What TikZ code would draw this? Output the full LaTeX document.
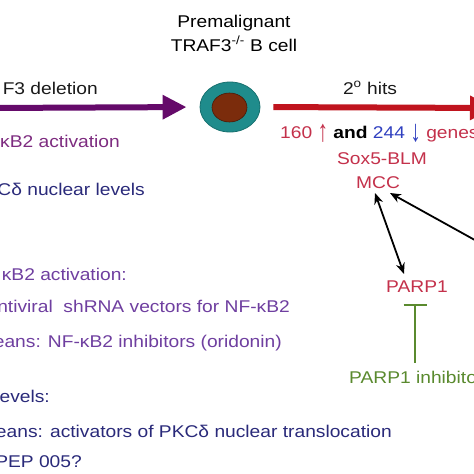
\documentclass[tikz,border=0pt]{standalone}
\usepackage{fontspec}
\setmainfont{Liberation Sans}
\usetikzlibrary{arrows.meta,shapes.geometric}
\definecolor{arrowpurple}{HTML}{650A6A}
\definecolor{arrowred}{HTML}{C0141E}
\definecolor{cellteal}{HTML}{1F8C8C}
\definecolor{celledge}{HTML}{17706F}
\definecolor{nucbrown}{HTML}{7B2C0C}
\definecolor{nucedge}{HTML}{4A1A08}
\definecolor{crimson}{HTML}{C4314B}
\definecolor{genblue}{HTML}{3040C0}
\definecolor{inhgreen}{HTML}{5A8A2E}
\definecolor{txtmagenta}{HTML}{7E2C80}
\definecolor{txtnavy}{HTML}{2A2A7A}
\definecolor{txtviolet}{HTML}{6F3FA0}
\definecolor{txtdark}{HTML}{1A1A1A}
\newcommand{\hstr}[1]{\scalebox{1.13}[1]{#1}}
\newcommand{\tallarr}[1]{\raisebox{-3.5pt}{\scalebox{1.1}[1.8]{#1}}}
\begin{document}
\begin{tikzpicture}[x=1pt,y=-1pt,
  txt/.style={inner sep=0pt, font=\fontsize{17}{20}\selectfont},
  bigarrow/.style={line width=6pt, -{Triangle[length=24pt,width=23pt]}},
  linkarrow/.style={line width=1.8pt, draw=black, {Stealth[length=11pt,width=9pt]}-{Stealth[length=11pt,width=9pt]}},
  onearrow/.style={line width=1.8pt, draw=black, -{Stealth[length=11pt,width=9pt]}},
  blockline/.style={line width=1.6pt, draw=inhgreen, {Bar[width=23pt]}-}
]
\useasboundingbox (0,0) rectangle (474,474);
\clip (0,0) rectangle (474,474);
\fill[white] (0,0) rectangle (474,474);

% title
\node[txt, anchor=base, text=black] (prem) at (234,27) {\hstr{Premalignant}};
\node[txt, anchor=base, text=black] (traf) at (234,51) {\hstr{TRAF3\textsuperscript{-/-} B cell}};

% cell
\node[ellipse, fill=cellteal, draw=celledge, line width=0.8pt, minimum width=60pt, minimum height=50pt, inner sep=0pt] (cell) at (230,107) {};
\node[ellipse, fill=nucbrown, draw=nucedge, line width=0.6pt, minimum width=35pt, minimum height=29pt, inner sep=0pt] (nuc) at (229.5,107.5) {};

% big arrows
\coordinate (pstart) at (-10,108);
\coordinate (rend) at (494,108);
\draw[bigarrow, draw=arrowpurple, fill=arrowpurple] (pstart) -- (cell.west) [shorten >=13pt];
\draw[bigarrow, draw=arrowred, fill=arrowred, shorten <=13pt] (cell.east) -- (rend);

\node[txt, anchor=base east, text=txtdark] (del) at (98,94) {\hstr{F3 deletion}};
\node[txt, anchor=base, text=txtdark] (hits) at (370,94) {\hstr{2\textsuperscript{o} hits}};

% genes
\node[txt, anchor=base west] (genes) at (280,138) {\hstr{\textcolor{crimson}{160 \tallarr{↑}} \textcolor{black}{\bfseries and} \textcolor{genblue}{244 \tallarr{↓}} \textcolor{crimson}{genes}}};
\node[txt, anchor=base, text=crimson] (sox) at (382,164) {\hstr{Sox5-BLM}};
\node[txt, anchor=base, text=crimson] (mcc) at (378,188) {\hstr{MCC}};
\node[txt, anchor=base, text=crimson] (parp) at (417,292) {\hstr{PARP1}};
\node[txt, anchor=base west, text=inhgreen] (inhib) at (349,383) {\hstr{PARP1 inhibitor}};

% connectors
\coordinate (mccB) at (375,193);
\coordinate (parpT) at (404,274);
\coordinate (mccR) at (390,193);
\coordinate (offR) at (482,244);
\coordinate (tTop) at (415,304);
\coordinate (tBot) at (415,363);
\draw[linkarrow] (mccB) -- (parpT);
\draw[onearrow] (offR) -- (mccR);
\draw[blockline] (tTop) -- (tBot);

% left column
\node[txt, anchor=base east, text=txtmagenta] (l2) at (120,147) {\hstr{κB2 activation}};
\node[txt, anchor=base east, text=txtnavy] (l3) at (145,195) {\hstr{Cδ nuclear levels}};
\node[txt, anchor=base east, text=txtviolet] (l4) at (127,280) {\hstr{κB2 activation:}};
\node[txt, anchor=base east, text=txtviolet] (l5) at (290,312) {\hstr{ntiviral\ \ shRNA vectors for NF-κB2}};
\node[txt, anchor=base east, text=txtviolet] (l6) at (282,347) {\hstr{eans: NF-κB2 inhibitors (oridonin)}};
\node[txt, anchor=base east, text=txtnavy] (l7) at (50,402) {\hstr{evels:}};
\node[txt, anchor=base east, text=txtnavy] (l8) at (392,437) {\hstr{eans: activators of PKCδ nuclear translocation}};
\node[txt, anchor=base east, text=txtnavy] (l9) at (82,467) {\hstr{PEP 005?}};
\end{tikzpicture}
\end{document}
